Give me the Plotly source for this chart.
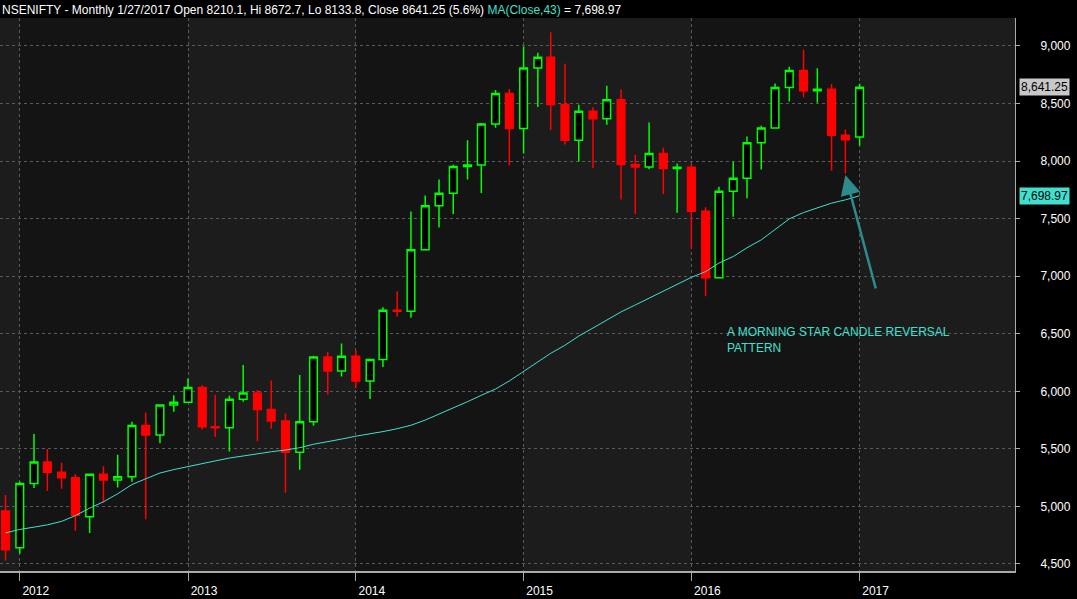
import pandas as pd
import plotly.graph_objects as go

# monthly NSENIFTY candles, Dec 2011 .. Jan 2017
months = pd.date_range("2011-12-01", "2017-01-01", freq="MS")

opens = [4960, 4640, 5200, 5385, 5296, 5248, 4910, 5279, 5229, 5258, 5704, 5620, 5881,
         5905, 6034, 5693, 5683, 5930, 5986, 5842, 5742, 5471, 5735, 6299, 6176,
         6304, 6090, 6277, 6704, 6696, 7230, 7611, 7721, 7954, 7965, 8322, 8588,
         8283, 8809, 8901, 8491, 8182, 8434, 8368, 8533, 7971, 7948, 8066, 7935,
         7946, 7564, 6987, 7738, 7850, 8160, 8288, 8639, 8786, 8611, 8625, 8224,
         8210.1]
highs = [5100, 5217, 5630, 5499, 5379, 5279, 5286, 5348, 5448, 5735, 5815, 5885, 5965,
         6111, 6052, 5971, 5962, 6229, 6011, 6093, 5808, 6142, 6309, 6342, 6415,
         6358, 6282, 6730, 6869, 7563, 7700, 7841, 7968, 8180, 8330, 8617, 8626,
         8996, 8941, 9119, 8845, 8489, 8467, 8655, 8622, 8055, 8336, 8116, 7979,
         7972, 7600, 7777, 7992, 8213, 8308, 8674, 8819, 8968, 8806, 8669, 8275,
         8672.7]
lows = [4531, 4588, 5159, 5135, 5154, 4789, 4770, 5032, 5164, 5215, 4888, 5548, 5823,
        5903, 5671, 5604, 5477, 5910, 5566, 5675, 5118, 5318, 5700, 5972, 6129,
        6027, 5933, 6212, 6650, 6638, 7239, 7422, 7541, 7841, 7723, 8290, 7961,
        8065, 8470, 8269, 8144, 7997, 7940, 8316, 7667, 7540, 7930, 7714, 7551,
        7241, 6825, 6985, 7516, 7678, 7927, 8287, 8518, 8555, 8506, 7916, 7893,
        8133.8]
closes = [4624, 5199, 5385, 5296, 5248, 4924, 5279, 5229, 5258, 5703, 5620, 5880, 5905,
          6034, 5693, 5683, 5930, 5986, 5842, 5742, 5471, 5735, 6299, 6176, 6304,
          6090, 6277, 6704, 6696, 7230, 7611, 7721, 7954, 7965, 8322, 8588, 8283,
          8809, 8901, 8491, 8182, 8434, 8368, 8533, 7971, 7948, 8066, 7935, 7946,
          7564, 6987, 7738, 7850, 8160, 8288, 8639, 8786, 8611, 8625, 8224, 8185,
          8641.25]

# MA(Close,43)
ma43 = [4770, 4800, 4820, 4840, 4870, 4920, 4985, 5040, 5110, 5190, 5240, 5290, 5320,
        5348, 5375, 5395, 5420, 5440, 5460, 5475, 5490, 5510, 5540, 5566, 5585,
        5610, 5630, 5650, 5675, 5705, 5750, 5800, 5855, 5910, 5965, 6020, 6090,
        6170, 6250, 6330, 6400, 6480, 6550, 6620, 6690, 6750, 6810, 6870, 6930,
        6990, 7040, 7114, 7171, 7247, 7316, 7409, 7498, 7553, 7591, 7635, 7663,
        7698.97]

years = ["2012", "2013", "2014", "2015", "2016", "2017"]
yticks = [4500, 5000, 5500, 6000, 6500, 7000, 7500, 8000, 8500, 9000]

fig = go.Figure()

# alternating year bands
bands = ["2011-10-01", "2012-01-01", "2013-01-01", "2014-01-01", "2015-01-01",
         "2016-01-01", "2017-01-01", "2018-06-01"]
for i in range(len(bands) - 1):
    fig.add_vrect(x0=bands[i], x1=bands[i + 1], layer="below", line_width=0,
                  fillcolor="#1c1c1c" if i % 2 == 0 else "#141414")

fig.add_trace(go.Candlestick(
    x=months, open=opens, high=highs, low=lows, close=closes,
    increasing=dict(line=dict(color="#00ff00", width=1.5), fillcolor="#000000"),
    decreasing=dict(line=dict(color="#ff0000", width=1.5), fillcolor="#ff0000"),
    whiskerwidth=0, showlegend=False, hoverinfo="skip"))

fig.add_trace(go.Scatter(x=months, y=ma43, mode="lines",
                         line=dict(color="#40e0d0", width=1), showlegend=False))

fig.update_layout(
    width=1077, height=599,
    margin=dict(l=0, r=62, t=18, b=28),
    paper_bgcolor="#000000", plot_bgcolor="#141414",
    boxgap=0.15,
    font=dict(family="Liberation Sans, Arial", color="#ffffff", size=12),
    xaxis=dict(type="date", range=["2011-11-19", "2017-12-05"], automargin=False,
               rangeslider=dict(visible=False),
               tickvals=[y + "-01-01" for y in years], ticktext=years,
               ticklabelshift=16, ticklabelstandoff=0, ticks="outside", ticklen=8,
               tickcolor="#aaaaaa",
               showgrid=True, gridcolor="#5a5a5a", griddash="dot",
               showline=True, linecolor="#aaaaaa", linewidth=2, zeroline=False),
    yaxis=dict(side="right", range=[4439, 9243], tickvals=yticks, tickformat=",",
               automargin=False, ticks="outside", ticklen=4, tickcolor="#aaaaaa",
               ticklabelstandoff=18,
               showgrid=True, gridcolor="#5a5a5a", griddash="dot",
               showline=True, linecolor="#aaaaaa", zeroline=False),
)

fig.add_annotation(
    xref="paper", yref="paper", x=0.0, y=1.0, yshift=17, xanchor="left", yanchor="top",
    showarrow=False, font=dict(size=12, color="#ffffff"),
    text="NSENIFTY - Monthly 1/27/2017 Open 8210.1, Hi 8672.7, Lo 8133.8, Close 8641.25 (5.6%) "
         "<span style='color:#40e0d0'>MA(Close,43)</span> = 7,698.97")

# price tags on the right axis
fig.add_annotation(xref="paper", yref="y", x=1.0, y=closes[-1], xanchor="left",
                   xshift=4, showarrow=False, text="8,641.25", bgcolor="#c8c8c8",
                   borderpad=1, font=dict(color="#000000", size=12))
fig.add_annotation(xref="paper", yref="y", x=1.0, y=ma43[-1], xanchor="left",
                   xshift=4, showarrow=False, text="7,698.97", bgcolor="#40e0d0",
                   borderpad=1, font=dict(color="#000000", size=12))

# pattern arrow and note
fig.add_annotation(x="2016-12-01", y=7880, ax="2017-02-06", ay=6880,
                   axref="x", ayref="y", text="", showarrow=True,
                   arrowhead=2, arrowsize=1.6, arrowwidth=2.5, arrowcolor="#2e8b8b")
fig.add_annotation(x="2016-03-15", y=6590, xanchor="left", yanchor="top", align="left",
                   showarrow=False, font=dict(color="#40e0d0", size=12),
                   text="A MORNING STAR CANDLE REVERSAL<br>PATTERN")

fig.write_html("out.html", config={"displayModeBar": False},
               post_script="document.body.style.margin='0px';")
